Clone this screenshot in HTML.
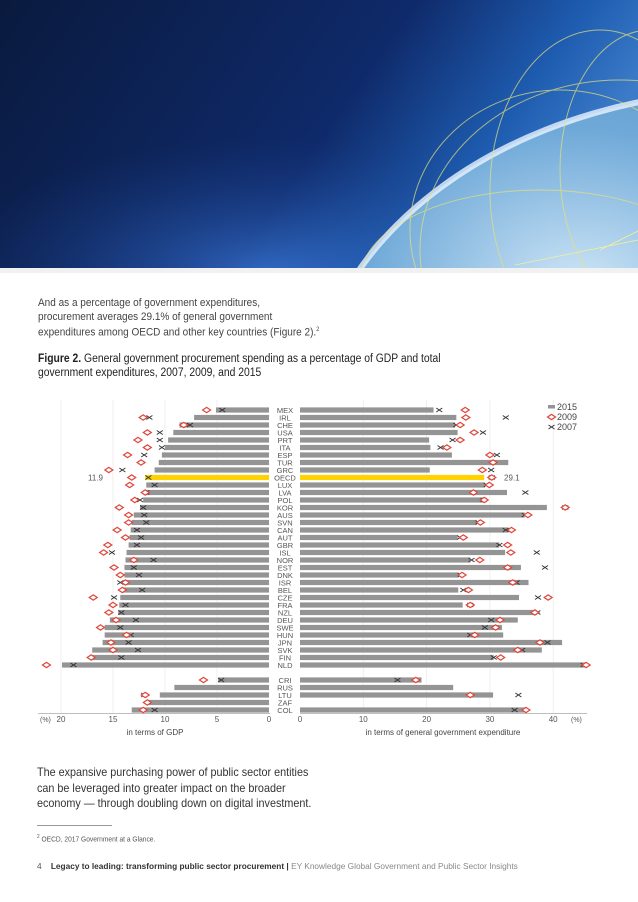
<!DOCTYPE html>
<html><head><meta charset="utf-8">
<style>
body{margin:0;width:638px;height:902px;overflow:hidden;background:#fff;font-family:"Liberation Sans",sans-serif;position:relative}
.t{position:absolute;color:#333;white-space:nowrap;transform-origin:0 0}
</style></head><body>
<svg width="638" height="273" style="position:absolute;left:0;top:0" viewBox="0 0 638 273">
<defs>
<linearGradient id="sky" x1="0" y1="0" x2="1" y2="0.3"><stop offset="0" stop-color="#0a1a3e"/><stop offset="0.6" stop-color="#0f2a6a"/><stop offset="0.85" stop-color="#1e5cb0"/><stop offset="1" stop-color="#3b7bc8"/></linearGradient>
<radialGradient id="glow" cx="0.42" cy="1" r="0.5"><stop offset="0" stop-color="#3d7ee0" stop-opacity="0.7"/><stop offset="1" stop-color="#1a3f8a" stop-opacity="0"/></radialGradient>
<radialGradient id="earth" cx="0.3" cy="0.3" r="0.8"><stop offset="0" stop-color="#cfe6f7"/><stop offset="0.3" stop-color="#6fa9d8"/><stop offset="1" stop-color="#2d6aa6"/></radialGradient>
</defs>
<rect width="638" height="273" fill="url(#sky)"/>
<rect width="638" height="273" fill="url(#glow)"/>
<ellipse cx="760" cy="420" rx="450" ry="330" fill="url(#earth)"/>
<ellipse cx="760" cy="420" rx="450" ry="330" fill="none" stroke="#e8f4ff" stroke-width="6" opacity="0.8"/>
<g fill="none" stroke="#e6e27a" stroke-width="1" opacity="0.7">
<ellipse cx="600" cy="190" rx="110" ry="160"/><ellipse cx="650" cy="170" rx="90" ry="140"/><ellipse cx="560" cy="230" rx="150" ry="140"/><ellipse cx="620" cy="250" rx="200" ry="170"/><ellipse cx="540" cy="280" rx="180" ry="90"/>
</g>
<path d="M600 250 L700 200 M515 265 L638 240" stroke="#f2ee9a" stroke-width="0.8"/>
<rect y="268" width="638" height="5" fill="#f1f1f1"/>
</svg>

<div class="t" style="left:38px;top:297px;font-size:11px;line-height:13.7px;color:#444;transform:scaleX(0.91)">And as a percentage of government expenditures,<br>procurement averages 29.1% of general government<br>expenditures among OECD and other key countries (Figure 2).<sup style="font-size:6px">2</sup></div>
<div class="t" style="left:38px;top:353px;font-size:11.5px;line-height:13.5px;color:#222;transform:scaleX(0.9)"><b>Figure 2.</b> General government procurement spending as a percentage of GDP and total<br>government expenditures, 2007, 2009, and 2015</div>

<svg id="chart" width="638" height="350" style="position:absolute;left:0;top:395px" viewBox="0 395 638 350"></svg>

<div class="t" style="left:37px;top:765px;font-size:12px;line-height:15.5px;color:#333;transform:scaleX(0.9)">The expansive purchasing power of public sector entities<br>can be leveraged into greater impact on the broader<br>economy — through doubling down on digital investment.</div>
<div style="position:absolute;left:37px;top:825px;width:75px;height:1px;background:#999"></div>
<div class="t" style="left:37px;top:834px;font-size:7px;color:#555;transform:scaleX(0.95)"><sup style="font-size:5px">2</sup> OECD, 2017 Government at a Glance.</div>
<div class="t" style="left:37px;top:861px;font-size:8.3px;color:#555">4&nbsp;&nbsp;&nbsp;&nbsp;<b style="color:#333">Legacy to leading: transforming public sector procurement |</b> <span style="color:#888">EY Knowledge Global Government and Public Sector Insights</span></div>

<script>
const countries=["MEX","IRL","CHE","USA","PRT","ITA","ESP","TUR","GRC","OECD","LUX","LVA","POL","KOR","AUS","SVN","CAN","AUT","GBR","ISL","NOR","EST","DNK","ISR","BEL","CZE","FRA","NZL","DEU","SWE","HUN","JPN","SVK","FIN","NLD","","CRI","RUS","LTU","ZAF","COL"];
const gdp2015=[5.1,7.2,8.6,9.2,9.7,10.0,10.3,10.6,11.0,11.9,11.8,11.9,12.1,12.4,13.0,13.2,13.3,13.4,13.5,13.7,13.8,13.9,13.9,14.0,14.2,14.3,14.4,14.5,15.3,15.8,15.8,16.0,17.0,17.2,19.9,null,4.9,9.1,10.5,11.8,13.2];
const gdp2009=[6.0,12.1,8.2,11.7,12.6,11.7,13.6,12.3,15.4,13.2,13.4,11.9,12.9,14.4,13.5,13.5,14.6,13.8,15.5,15.9,13.0,14.9,14.3,13.8,14.1,16.9,15.0,15.4,14.7,16.2,13.7,15.2,15.0,17.1,21.4,null,6.3,null,11.9,11.7,12.1];
const gdp2007=[4.5,11.5,7.6,10.5,10.5,10.3,12.0,null,14.1,11.6,11.0,11.8,12.4,12.1,12.0,11.8,12.7,12.3,12.7,15.1,11.1,13.0,12.5,14.3,12.2,14.9,13.8,14.2,12.8,14.3,13.3,13.5,12.6,14.2,18.8,null,4.6,null,12.0,null,11.0];
const exp2015=[21.1,24.7,24.5,24.9,20.4,20.6,24.0,32.9,20.5,29.1,29.2,32.7,29.0,39.0,35.5,27.9,32.9,24.9,31.5,32.4,26.9,34.9,25.0,36.1,25.0,34.6,25.7,37.4,34.4,31.9,32.1,41.4,38.2,30.6,45.2,null,19.2,24.2,30.5,null,35.5];
const exp2009=[26.1,26.2,25.3,27.5,25.3,23.2,30.0,30.5,28.8,30.3,29.9,27.4,29.1,41.9,36.0,28.5,33.4,25.8,32.8,33.3,28.4,32.8,25.6,33.6,26.6,39.2,26.9,37.1,31.6,30.9,27.6,37.9,34.4,31.7,45.2,null,18.3,null,26.9,null,35.7];
const exp2007=[22.0,32.5,24.7,28.9,24.1,22.2,31.1,null,30.2,30.3,29.5,35.6,29.0,41.9,35.5,28.2,32.5,25.3,31.5,37.4,27.1,38.7,25.4,34.2,25.8,37.6,26.9,37.5,30.2,29.2,26.9,39.1,35.1,30.6,44.8,null,15.4,null,34.5,null,33.9];
const leftTicks=[20,15,10,5,0];
const rightTicks=[0,10,20,30,40];

const NS="http://www.w3.org/2000/svg";
const svg=document.getElementById('chart');
function mk(tag,attrs,name,parent){const e=document.createElementNS(NS,tag);for(const k in attrs)e.setAttribute(k,attrs[k]);


(parent||svg).appendChild(e);return e;}
const xL=v=>269-v*10.4;
const xR=v=>300+v*6.33;
const yR=i=>410+i*7.5;
leftTicks.forEach(t=>{if(t>0)mk('line',{x1:xL(t),x2:xL(t),y1:400,y2:713,stroke:'#ececec','stroke-width':0.8},'left-gridline');
const tx=mk('text',{x:xL(t),y:722,'font-size':8,fill:'#555','text-anchor':'middle'},'left-tick-label');tx.textContent=t;});
rightTicks.forEach(t=>{if(t>0)mk('line',{x1:xR(t),x2:xR(t),y1:400,y2:713,stroke:'#ececec','stroke-width':0.8},'right-gridline');
const tx=mk('text',{x:xR(t),y:722,'font-size':8,fill:'#555','text-anchor':'middle'},'right-tick-label');tx.textContent=t;});
mk('line',{x1:38,x2:270,y1:713.5,y2:713.5,stroke:'#aaa','stroke-width':0.8},'left-x-axis');
mk('line',{x1:300,x2:587,y1:713.5,y2:713.5,stroke:'#aaa','stroke-width':0.8},'right-x-axis');
function diamond(cx,cy,name){mk('path',{d:`M${cx-4} ${cy} L${cx} ${cy-2.6} L${cx+4} ${cy} L${cx} ${cy+2.6} Z`,fill:'#fff',stroke:'#e0463a','stroke-width':1.2},name);}
function cross(cx,cy,name){mk('path',{d:`M${cx-3} ${cy-2} L${cx+3} ${cy+2} M${cx-3} ${cy+2} L${cx+3} ${cy-2}`,stroke:'#333','stroke-width':1},name);}
countries.forEach((c,i)=>{
 const y=yR(i);
 if(c){const l=mk('text',{x:285,y:y+2.8,'font-size':7.5,fill:'#555','text-anchor':'middle'},'country-label');l.textContent=c;}
 const col=c==='OECD'?'#ffd200':'#949494';
 if(gdp2015[i]!=null)mk('rect',{x:xL(gdp2015[i]),y:y-2.6,width:269-xL(gdp2015[i]),height:5.2,fill:col},'gdp-bar-2015');
 if(exp2015[i]!=null)mk('rect',{x:300,y:y-2.6,width:xR(exp2015[i])-300,height:5.2,fill:col},'exp-bar-2015');
 if(gdp2007[i]!=null)cross(xL(gdp2007[i]),y,'gdp-marker-2007');
 if(gdp2009[i]!=null)diamond(xL(gdp2009[i]),y,'gdp-marker-2009');
 if(exp2007[i]!=null)cross(xR(exp2007[i]),y,'exp-marker-2007');
 if(exp2009[i]!=null)diamond(xR(exp2009[i]),y,'exp-marker-2009');
});
let t;
t=mk('text',{x:88,y:yR(9)+3,'font-size':8,fill:'#555'},'oecd-gdp-value');t.textContent='11.9';
t=mk('text',{x:504,y:yR(9)+3,'font-size':8,fill:'#555'},'oecd-exp-value');t.textContent='29.1';
t=mk('text',{x:40,y:722,'font-size':7,fill:'#555'},'left-unit-label');t.textContent='(%)';
t=mk('text',{x:571,y:722,'font-size':7,fill:'#555'},'right-unit-label');t.textContent='(%)';
t=mk('text',{x:155,y:735,'font-size':8,fill:'#444','text-anchor':'middle'},'left-axis-title');t.textContent='in terms of GDP';
t=mk('text',{x:443,y:735,'font-size':8,fill:'#444','text-anchor':'middle'},'right-axis-title');t.textContent='in terms of general government expenditure';
const lg=mk('g',{},'legend');
mk('rect',{x:548,y:405,width:7,height:3.5,fill:'#949494'},'legend-swatch-2015',lg);
t=mk('text',{x:557,y:410,'font-size':9,fill:'#444'},'legend-label-2015',lg);t.textContent='2015';
diamond(551.5,417,'legend-swatch-2009');
t=mk('text',{x:557,y:420,'font-size':9,fill:'#444'},'legend-label-2009',lg);t.textContent='2009';
cross(551.5,427,'legend-swatch-2007');
t=mk('text',{x:557,y:430,'font-size':9,fill:'#444'},'legend-label-2007',lg);t.textContent='2007';
</script>
</body></html>
